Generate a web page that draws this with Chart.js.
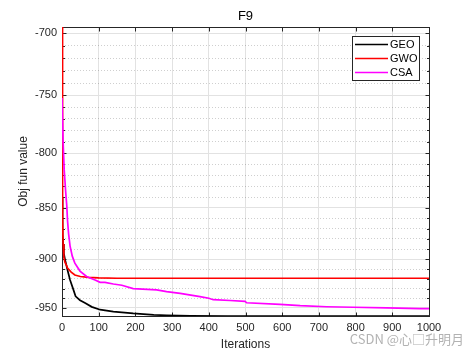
<!DOCTYPE html>
<html>
<head>
<meta charset="utf-8">
<script src="https://cdn.jsdelivr.net/npm/chart.js@4.4.1/dist/chart.umd.min.js"></script>
<style>
  html, body { margin: 0; padding: 0; background: #ffffff; }
  #wrap { position: relative; width: 474px; height: 355px; }
</style>
</head>
<body>
<div id="wrap"><canvas id="c" width="474" height="355"></canvas></div>
<script>
// ---- data ----
const chartTitle = "F9";
const xLabel = "Iterations";
const yLabel = "Obj fun value";
const watermark = "CSDN @心□升明月";
const seriesNames = ["GEO", "GWO", "CSA"];
const seriesColors = ["#000000", "#ff0000", "#ff00ff"];

const iterGEO = [0, 1, 2, 3, 5, 8, 10, 15, 22, 31, 37, 49, 63, 81, 104, 140, 194, 250, 285, 350, 450, 1000];
const valGEO  = [-840, -862, -876, -885, -894, -900, -903, -911, -921, -931, -938, -942, -945, -949, -952, -954, -956, -957.5, -958, -958.5, -958.7, -958.7];

const iterGWO = [0, 1, 2, 3, 5, 8, 12, 15, 25, 35, 50, 72, 100, 150, 1000];
const valGWO  = [-695.3, -800, -860, -885, -898, -903, -906, -909, -913, -916, -917.5, -918.5, -919, -919.3, -919.3];

const iterCSA = [0, 3, 6, 10, 13, 15, 18, 22, 28, 35, 49, 67, 90, 104, 117, 140, 163, 194, 258, 285, 322, 376, 400, 412, 458, 499, 503, 594, 649, 721, 793, 885, 975, 1000];
const valCSA  = [-752.5, -790, -815, -835, -848, -862, -875, -887, -897, -904, -912, -917.5, -921, -923.5, -923.5, -925.2, -926.5, -930, -931.3, -933, -934.8, -938.3, -940, -941.5, -942.3, -943.3, -944.7, -946.3, -947.8, -948.9, -949.4, -950.1, -950.8, -950.8];

const xTicks = [0, 100, 200, 300, 400, 500, 600, 700, 800, 900, 1000];
const yMajorTicks = [-700, -750, -800, -850, -900, -950];
const yMinorTicks = [-710, -720, -730, -740, -760, -770, -780, -790, -810, -820, -830, -840, -860, -870, -880, -890, -910, -920, -930, -940];
const yTop = -695.3, yBottom = -958.7;

// ---- build ----
// The reference y axis is a log scale of the magnitude (semilogy of negative values),
// so the magnitude is plotted on a reversed logarithmic scale and labelled with the sign.
const allIters = [iterGEO, iterGWO, iterCSA];
const allVals = [valGEO, valGWO, valCSA];
const datasets = seriesNames.map((name, k) => ({
  label: name,
  data: allIters[k].map((x, i) => ({ x: x, y: -allVals[k][i] })),
  borderColor: seriesColors[k],
  backgroundColor: seriesColors[k],
  borderWidth: 1.7,
  pointRadius: 0,
  tension: 0,
  fill: false
}));
datasets.reverse(); // draw CSA first, GEO on top

const AXC = "#262626";
const FONT = "'Liberation Sans', Arial, Helvetica, sans-serif";

const framePlugin = {
  id: "frame",
  beforeDatasetsDraw(chart) {
    const { ctx, chartArea: a, scales } = chart;
    ctx.save();
    ctx.strokeStyle = AXC;
    ctx.lineWidth = 1;
    const L = Math.round(a.left) + 0.5, R = Math.round(a.right) + 0.5;
    const T = Math.round(a.top) + 0.5, B = Math.round(a.bottom) + 0.5;
    ctx.strokeRect(L, T, R - L, B - T);
    ctx.beginPath();
    xTicks.forEach(v => {
      const px = Math.round(scales.x.getPixelForValue(v)) + 0.5;
      ctx.moveTo(px, B); ctx.lineTo(px, B - 4);
      ctx.moveTo(px, T); ctx.lineTo(px, T + 4);
    });
    yMajorTicks.forEach(v => {
      const py = Math.round(scales.y.getPixelForValue(-v)) + 0.5;
      ctx.moveTo(L, py); ctx.lineTo(L + 4, py);
      ctx.moveTo(R, py); ctx.lineTo(R - 4, py);
    });
    yMinorTicks.forEach(v => {
      const py = Math.round(scales.y.getPixelForValue(-v)) + 0.5;
      ctx.moveTo(L, py); ctx.lineTo(L + 2.5, py);
      ctx.moveTo(R, py); ctx.lineTo(R - 2.5, py);
    });
    ctx.stroke();
    ctx.restore();
  },
  afterDraw(chart) {
    const { ctx, chartArea: a } = chart;
    // legend box (top right, inside axes)
    ctx.save();
    const bx = a.right - 77, by = a.top + 9, bw = 67, bh = 44;
    ctx.fillStyle = "#ffffff";
    ctx.fillRect(bx, by, bw, bh);
    ctx.strokeStyle = AXC;
    ctx.lineWidth = 1;
    ctx.strokeRect(Math.round(bx) + 0.5, Math.round(by) + 0.5, bw, bh);
    ctx.font = "11px " + FONT;
    ctx.textBaseline = "middle";
    seriesNames.forEach((name, i) => {
      const y = by + 8.5 + i * 14;
      ctx.strokeStyle = seriesColors[i];
      ctx.lineWidth = 1.7;
      ctx.beginPath();
      ctx.moveTo(bx + 3, y); ctx.lineTo(bx + 36, y);
      ctx.stroke();
      ctx.fillStyle = "#000000";
      ctx.fillText(name, bx + 38, y + 0.5);
    });
    // watermark
    ctx.font = "13px 'Noto Sans CJK SC', " + FONT;
    ctx.fillStyle = "rgba(165,165,165,0.85)";
    ctx.textBaseline = "middle";
    ctx.textAlign = "right";
    ctx.fillText(watermark, 464, 339);
    ctx.restore();
  }
};

new Chart(document.getElementById("c"), {
  type: "line",
  data: { datasets: datasets },
  plugins: [framePlugin],
  options: {
    responsive: false,
    animation: false,
    layout: { padding: { top: 0, left: 0, right: 45, bottom: 0 } },
    plugins: {
      legend: { display: false },
      tooltip: { enabled: false },
      title: {
        display: true,
        text: chartTitle,
        fullSize: false,
        color: "#000000",
        font: { family: FONT, size: 13, weight: "normal", lineHeight: 1.2 },
        padding: { top: 9, bottom: 2.4 }
      }
    },
    scales: {
      x: {
        type: "linear",
        min: 0, max: 1000,
        afterBuildTicks: s => { s.ticks = xTicks.map(v => ({ value: v })); },
        afterFit: s => { s.height = 39; },
        ticks: { color: AXC, font: { family: FONT, size: 11 }, padding: 5, maxRotation: 0, autoSkip: false, callback: v => String(v) },
        grid: { color: "#e2e2e2", lineWidth: 1, drawTicks: false },
        border: { display: false },
        title: { display: true, text: xLabel, color: AXC, font: { family: FONT, size: 12 }, padding: { top: 0, bottom: 3 } }
      },
      y: {
        type: "logarithmic",
        position: "left",
        reverse: true,
        bounds: "data",
        min: -yTop, max: -yBottom,
        afterBuildTicks: s => { s.ticks = yMajorTicks.map(v => ({ value: -v })); },
        afterFit: s => { s.width = 62; },
        ticks: { color: AXC, font: { family: FONT, size: 11 }, padding: 5, autoSkip: false, callback: v => "-" + v },
        grid: { color: "#e2e2e2", lineWidth: 1, drawTicks: false },
        border: { display: false },
        title: { display: true, text: yLabel, color: AXC, font: { family: FONT, size: 12 }, padding: { top: 16, bottom: 0 } }
      },
      y2: {
        type: "logarithmic",
        position: "left",
        reverse: true,
        bounds: "data",
        min: -yTop, max: -yBottom,
        afterBuildTicks: s => { s.ticks = yMinorTicks.map(v => ({ value: -v })); },
        afterFit: s => { s.width = 0; },
        ticks: { display: false },
        grid: { color: "rgba(38,38,38,0.22)", lineWidth: 1, drawTicks: false },
        border: { display: false, dash: [1, 2] }
      }
    }
  }
});
</script>
</body>
</html>
